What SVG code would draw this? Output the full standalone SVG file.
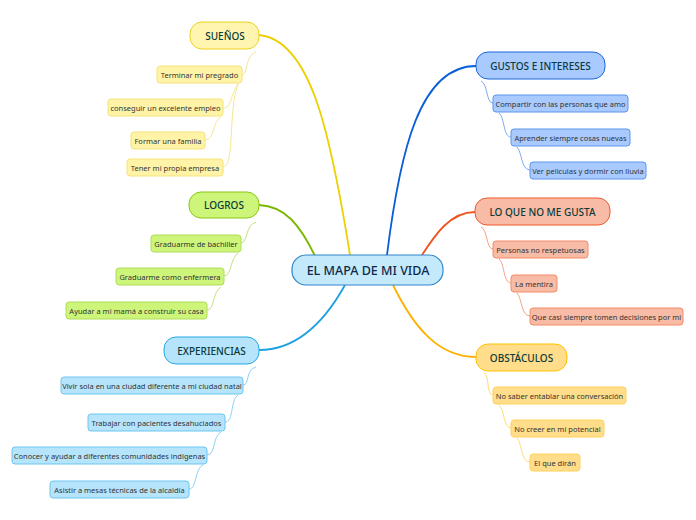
<svg xmlns="http://www.w3.org/2000/svg" width="696" height="520" viewBox="0 0 696 520">
<style>
text{font-family:"Noto Sans","Open Sans",sans-serif;text-anchor:middle;dominant-baseline:central}
.m{font-size:10px;fill:#0b3b3a;font-weight:500}
.s{font-size:7.5px;fill:#333}
.c{font-size:12.5px;fill:#0c2a4a;font-weight:500}
.l{fill:none;stroke-width:1.8}
.t{fill:none;stroke-width:0.8}
.y{fill:#fff5b0;stroke:#ecd21c}.ys{fill:#fff3a8;stroke:#f5e27a}
.g{fill:#cdf57a;stroke:#8cc614}.gs{fill:#cdf57a;stroke:#b0dc5a}
.e{fill:#b5e4fb;stroke:#22a7e6}.es{fill:#b5e4fb;stroke:#6cc6f0}
.b{fill:#a9caff;stroke:#1a66d9}.bs{fill:#a9caff;stroke:#5a95ea}
.r{fill:#f8bba6;stroke:#f2582a}.rs{fill:#f8bba6;stroke:#f48a66}
.o{fill:#ffdd8a;stroke:#ffc400}.os{fill:#ffdd8a;stroke:#ffd25a}
</style>
<g id="connectors">
<path class="l" stroke="#ecd000" d="M350,255 C330,130 310,40 259,35"/>
<path class="l" stroke="#7ab800" d="M315,256 C300,225 285,206 259,205"/>
<path class="l" stroke="#1ba1e2" d="M345,285 C320,330 290,350 259,350"/>
<path class="l" stroke="#0a5fd6" d="M387,255 C400,150 420,66 476,66"/>
<path class="l" stroke="#f0541e" d="M422,255 C435,235 450,212 475,212"/>
<path class="l" stroke="#ffb000" d="M393,285 C415,330 440,357 476,357"/>
<g class="t" stroke="#f2e07a">
<path d="M256,52 C245,55 248,75 242,75"/><path d="M238,84 C230,95 232,108 223,108"/><path d="M221,117 C212,122 215,140 205,140"/><path d="M238,84 C228,110 235,167 223,167"/>
</g>
<g class="t" stroke="#b0dc5a">
<path d="M256,222 C245,225 248,243 241,243"/><path d="M238,253 C230,258 232,276 224,276"/><path d="M221,287 C212,292 215,310 207,310"/>
</g>
<g class="t" stroke="#6cc6f0">
<path d="M256,367 C245,370 250,385 243,385"/><path d="M238,395 C230,400 234,422 225,422"/><path d="M221,432 C212,437 216,455 207,455"/><path d="M203,465 C194,470 197,489 189,489"/>
</g>
<g class="t" stroke="#5a95ea">
<path d="M481,81 C488,84 486,103 493,103"/><path d="M499,113 C505,118 503,137 511,137"/><path d="M517,147 C522,152 521,170 530,170"/>
</g>
<g class="t" stroke="#f48a66">
<path d="M481,227 C488,230 486,249 493,249"/><path d="M499,259 C505,264 503,283 511,283"/><path d="M517,293 C522,298 521,316 530,316"/>
</g>
<g class="t" stroke="#ffd25a">
<path d="M484,373 C490,376 486,395 493,395"/><path d="M499,405 C505,410 503,428 511,428"/><path d="M517,438 C522,443 521,462 530,462"/>
</g>
</g>
<g id="central"><rect x="292" y="255" width="151" height="30" rx="14" fill="#c4e9fa" stroke="#2f86c9" stroke-width="1.2"/><text class="c" x="368" y="270">EL MAPA DE MI VIDA</text></g>
<g id="suenos"><rect class="y" x="190" y="22" width="69" height="27" rx="12"/><text class="m" x="225" y="35.5">SUEÑOS</text></g>
<g id="logros"><rect class="g" x="189" y="192" width="70" height="26" rx="12"/><text class="m" x="224" y="205">LOGROS</text></g>
<g id="experiencias"><rect class="e" x="164" y="337" width="95" height="27" rx="12"/><text class="m" x="211.5" y="350.5">EXPERIENCIAS</text></g>
<g id="gustos"><rect class="b" x="476" y="52" width="129" height="27" rx="12"/><text class="m" x="540.5" y="65.5">GUSTOS E INTERESES</text></g>
<g id="nogusta"><rect class="r" x="475" y="198" width="135" height="27" rx="12"/><text class="m" x="542.5" y="211.5">LO QUE NO ME GUSTA</text></g>
<g id="obstaculos"><rect class="o" x="476" y="344" width="91" height="27" rx="12"/><text class="m" x="521.5" y="357.5">OBSTÁCULOS</text></g>
<g id="sub-suenos">
<rect class="ys" x="157" y="66" width="85" height="17" rx="3"/><text class="s" x="199.5" y="74.5">Terminar mi pregrado</text>
<rect class="ys" x="108" y="99" width="115" height="17" rx="3"/><text class="s" x="165.5" y="107.5">conseguir un excelente empleo</text>
<rect class="ys" x="131" y="132" width="74" height="17" rx="3"/><text class="s" x="168" y="140.5">Formar una familia</text>
<rect class="ys" x="127" y="159" width="96" height="17" rx="3"/><text class="s" x="175" y="167.5">Tener mi propia empresa</text>
</g>
<g id="sub-logros">
<rect class="gs" x="151" y="235" width="90" height="17" rx="3"/><text class="s" x="196" y="243.5">Graduarme de bachiller</text>
<rect class="gs" x="116" y="268" width="108" height="17" rx="3"/><text class="s" x="170" y="276.5">Graduarme como enfermera</text>
<rect class="gs" x="66" y="302" width="141" height="17" rx="3"/><text class="s" x="136.5" y="310.5">Ayudar a mi mamá a construir su casa</text>
</g>
<g id="sub-experiencias">
<rect class="es" x="61" y="377" width="182" height="17" rx="3"/><text class="s" x="152" y="385.5">Vivir sola en una ciudad diferente a mi ciudad natal</text>
<rect class="es" x="88" y="414" width="137" height="17" rx="3"/><text class="s" x="156.5" y="422.5">Trabajar con pacientes desahuciados</text>
<rect class="es" x="12" y="447" width="195" height="17" rx="3"/><text class="s" x="109.5" y="455.5">Conocer y ayudar a diferentes comunidades indígenas</text>
<rect class="es" x="50" y="481" width="139" height="17" rx="3"/><text class="s" x="119.5" y="489.5">Asistir a mesas técnicas de la alcaldía</text>
</g>
<g id="sub-gustos">
<rect class="bs" x="493" y="95" width="135" height="17" rx="3"/><text class="s" x="560.5" y="103.5">Compartir con las personas que amo</text>
<rect class="bs" x="511" y="129" width="119" height="17" rx="3"/><text class="s" x="570.5" y="137.5">Aprender siempre cosas nuevas</text>
<rect class="bs" x="530" y="162" width="116" height="17" rx="3"/><text class="s" x="588" y="170.5">Ver peliculas y dormir con lluvia</text>
</g>
<g id="sub-nogusta">
<rect class="rs" x="493" y="241" width="95" height="17" rx="3"/><text class="s" x="540.5" y="249.5">Personas no respetuosas</text>
<rect class="rs" x="511" y="275" width="46" height="17" rx="3"/><text class="s" x="534" y="283.5">La mentira</text>
<rect class="rs" x="530" y="308" width="153" height="17" rx="3"/><text class="s" x="606.5" y="316.5">Que casi siempre tomen decisiones por mi</text>
</g>
<g id="sub-obstaculos">
<rect class="os" x="493" y="387" width="133" height="17" rx="3"/><text class="s" x="559.5" y="395.5">No saber entablar una conversación</text>
<rect class="os" x="511" y="420" width="93" height="17" rx="3"/><text class="s" x="557.5" y="428.5">No creer en mi potencial</text>
<rect class="os" x="530" y="454" width="50" height="17" rx="3"/><text class="s" x="555" y="462.5">El que dirán</text>
</g>
</svg>
